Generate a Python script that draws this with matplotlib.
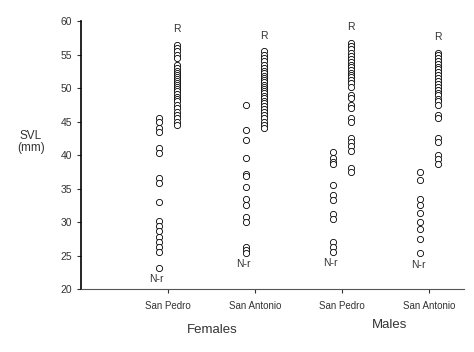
import matplotlib
matplotlib.use("Agg")
import matplotlib.pyplot as plt

plt.rcParams['font.family'] = ['Liberation Sans', 'DejaVu Sans']

groups = ["San Pedro", "San Antonio", "San Pedro", "San Antonio"]
sexes = ["Females", "Males"]

# SVL (mm), non-reproductive (N-r) and reproductive (R)
fsp_nr = [45.5, 45.0, 44.0, 43.4, 41.0, 40.3, 36.5, 35.8, 33.0, 30.1, 29.4, 28.6,
          27.8, 27.0, 26.3, 25.5, 23.2]
fsp_r = [56.5, 56.0, 55.5, 55.0, 54.5, 53.5, 53.0, 52.6, 52.3, 52.0, 51.7, 51.4,
         51.0, 50.7, 50.4, 50.1, 49.8, 49.5, 49.1, 48.7, 48.4, 48.0, 47.5, 47.0,
         46.5, 46.0, 45.5, 45.0, 44.5]
fsa_nr = [47.5, 43.8, 42.2, 39.5, 37.2, 36.9, 35.2, 33.5, 32.6, 30.8, 30.0,
          26.3, 25.8, 25.4]
fsa_r = [55.5, 55.0, 54.5, 54.0, 53.5, 53.0, 52.6, 52.2, 51.8, 51.5, 51.2, 50.9,
         50.5, 50.2, 49.9, 49.5, 49.2, 48.8, 48.5, 48.1, 47.7, 47.3, 46.9, 46.5,
         46.0, 45.5, 45.0, 44.5, 44.0]
msp_nr = [40.5, 39.6, 39.0, 38.6, 35.5, 34.0, 33.3, 31.2, 30.5, 27.0, 26.3, 25.5]
msp_r = [56.8, 56.3, 55.8, 55.3, 54.8, 54.3, 53.9, 53.5, 53.1, 52.7, 52.3, 52.0,
         51.6, 51.2, 50.7, 50.2, 49.0, 48.5, 47.5, 47.0, 45.5, 45.0, 42.5, 42.0,
         41.3, 40.6, 38.0, 37.5]
msa_nr = [37.5, 36.3, 33.5, 32.5, 31.3, 30.0, 29.0, 27.5, 25.3]
msa_r = [55.3, 54.9, 54.5, 54.0, 53.6, 53.2, 52.8, 52.4, 52.0, 51.5, 51.1, 50.6,
         50.2, 49.7, 49.3, 48.9, 48.4, 48.0, 47.5, 46.0, 45.5, 42.5, 42.0, 40.0,
         39.4, 38.7]

nr_data = [fsp_nr, fsa_nr, msp_nr, msa_nr]
r_data = [fsp_r, fsa_r, msp_r, msa_r]

fig = plt.figure(figsize=(4.74, 3.52), dpi=100)
ax = fig.add_axes([0.171, 0.179, 0.808, 0.761])

for i in range(4):
    pos = i + 1
    nr = nr_data[i]
    r = r_data[i]
    ax.scatter([pos - 0.11] * len(nr), nr, s=20, facecolors='white',
               edgecolors='black', linewidths=0.6, zorder=3)
    ax.scatter([pos + 0.10] * len(r), r, s=20, facecolors='white',
               edgecolors='black', linewidths=0.6, zorder=3)
    ax.text(pos + 0.10, max(r) + 1.6, "R", ha='center', va='bottom',
            fontsize=7.5, color='#333333')
    ax.text(pos - 0.13, min(nr) - 0.9, "N-r", ha='center', va='top',
            fontsize=7.5, color='#333333')

ax.set_xlim(0, 4.4)
ax.set_ylim(20, 60)
ax.set_yticks(range(20, 61, 5))
ax.set_xticks([1, 2, 3, 4])
ax.set_xticklabels(groups, fontsize=7)
ax.tick_params(axis='both', labelsize=7.5, colors='#333333', length=3,
               width=0.8, direction='out')
ax.tick_params(axis='x', labelsize=7, pad=6)

ax.spines['top'].set_visible(False)
ax.spines['right'].set_visible(False)
ax.spines['left'].set_color('black')
ax.spines['left'].set_linewidth(1.2)
ax.spines['bottom'].set_color('#555555')
ax.spines['bottom'].set_linewidth(0.8)

fig.text(31 / 474, 1 - 142 / 352, "SVL\n(mm)", ha='center', va='center',
         fontsize=8.5, color='#333333', linespacing=1.0)
fig.text(212 / 474, 1 - 330 / 352, sexes[0], ha='center', va='center',
         fontsize=9.5, color='#333333')
fig.text(390 / 474, 1 - 325 / 352, sexes[1], ha='center', va='center',
         fontsize=9.5, color='#333333')

fig.savefig("out.png", dpi=100, facecolor='white')
